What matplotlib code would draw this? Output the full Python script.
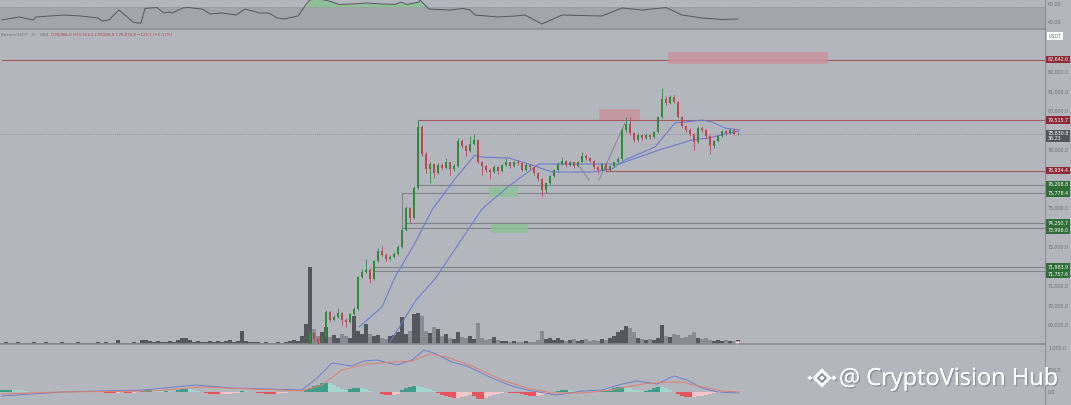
import numpy as np
import matplotlib
matplotlib.use("Agg")
import matplotlib.pyplot as plt
from matplotlib.patches import Rectangle, Polygon
import matplotlib.patheffects as pe

# ---- BTC/USDT 1h, values ----
first_bar = 77          # bar index of the first candle inside the price window
first_open = 67950

closes = [
    68600, 68300, 68150, 68400, 69650, 69250, 69400, 69600, 69250, 69150,
    69550, 69800, 71450, 71700, 71850, 71350, 72300, 72800, 72600, 72400,
    72500, 72650, 73000, 73900, 75000, 74500, 76050, 79150, 77800, 77000,
    77250, 76800, 77200, 77050, 77350, 77000, 77150, 78450, 78200, 77950,
    78300, 78500, 77400, 77150, 76950, 76850, 77100, 76900, 77200, 77350,
    77150, 77400, 77300, 76950, 77200, 77100, 76800, 76500, 75950, 76300,
    76650, 76950, 77250, 77450, 77200, 77350, 77150, 77400, 77700, 77600,
    77450, 77100, 76950, 77250, 76950, 77150, 77350, 77550, 79000, 79350,
    78850, 78500, 78750, 78600, 78750, 78650, 78900, 79700, 80600, 80400,
    80700, 80450, 79700, 79200, 79000, 78800, 78400, 79100, 79000, 78700,
    78200, 78450, 78700, 78950, 78850, 79000, 78800, 78830,
]
highs = [
    68700, 68650, 68400, 68500, 69750, 69700, 69500, 69850, 69650, 69350,
    69600, 69900, 71500, 71900, 72400, 71950, 72350, 72950, 73050, 72700,
    72600, 72750, 73100, 74000, 75100, 75050, 76150, 79500, 79300, 77900,
    77400, 77300, 77300, 77300, 77600, 77400, 77250, 78600, 78550, 78250,
    78700, 78800, 78550, 77450, 77200, 77050, 77200, 77150, 77250, 77600,
    77400, 77450, 77500, 77350, 77300, 77250, 77150, 76850, 76550, 76350,
    76700, 77000, 77350, 77650, 77500, 77450, 77400, 77450, 77900, 77800,
    77650, 77500, 77150, 77300, 77300, 77200, 77400, 77650, 79100, 79700,
    79700, 78900, 78850, 78800, 78850, 78800, 78950, 79750, 81180, 80750,
    80800, 80800, 80500, 79750, 79300, 79100, 78850, 79200, 79200, 79050,
    78750, 78500, 78750, 79000, 79000, 79050, 79050, 78900,
]
lows = [
    67900, 68200, 68000, 68100, 68350, 69150, 69200, 69350, 69000, 68900,
    69100, 69500, 69750, 71400, 71650, 71150, 71300, 72250, 72550, 72300,
    72350, 72450, 72600, 72950, 73850, 74250, 74450, 76000, 77700, 76800,
    76300, 76550, 76750, 76950, 77000, 76700, 76900, 77100, 78100, 77700,
    77900, 78250, 77300, 76700, 76850, 76500, 76800, 76750, 76850, 77150,
    77050, 77100, 77200, 76900, 76900, 77000, 76700, 76400, 75650, 75800,
    76250, 76600, 76900, 77200, 77100, 77150, 77050, 77100, 77350, 77500,
    77350, 77000, 76800, 76900, 76850, 76900, 77100, 77300, 77500, 78900,
    78750, 78400, 78450, 78500, 78550, 78550, 78600, 78850, 79650, 80300,
    80350, 80400, 79650, 79100, 78900, 78700, 78000, 78350, 78900, 78600,
    77800, 78100, 78400, 78650, 78750, 78800, 78750, 78750,
]

# volume for every bar from the left edge (bar 0) to the last candle
volume = [
    1, 2, 1, 1, 2, 1, 1, 1, 2, 1, 1, 2, 1, 1, 1, 2, 1, 1, 1, 2, 1, 1, 1, 1, 2, 1, 2, 1, 1,
    4, 1, 1, 1, 2, 1, 4, 4, 3, 2, 3, 2, 2, 3, 2, 4, 6, 6, 4,
    2, 3, 2, 2, 3, 2, 3, 2, 3, 4, 2, 3, 13, 3, 2, 2, 2,
    1, 2, 1, 1, 2, 1, 2, 3, 4, 3, 8, 20, 77, 15, 8, 12, 17,
    7, 9, 6, 10, 8, 6, 28, 13, 10, 20, 10, 8, 9, 6, 5, 8, 9, 12, 27,
    10, 13, 30, 31, 28, 13, 11, 17, 15, 8, 10, 6, 5, 12, 7, 6, 8, 5, 21,
    6, 4, 5, 7, 4, 3, 3, 2, 3, 2, 2, 3, 2, 2, 4, 13, 5, 6, 4, 6, 4,
    3, 4, 5, 3, 4, 5, 3, 4, 3, 5, 4, 6, 8, 12, 14, 18, 16, 12, 6, 5, 4,
    5, 4, 6, 19, 8, 7, 10, 9, 6, 7, 9, 12, 6, 5, 6, 4, 3, 4, 3, 4, 3, 3, 4,
]

# moving averages (vertices: bar index, price)
ma_fast_x = [89.25, 95, 98.25, 103.25, 107.5, 113, 118.25, 120, 126.75, 132.5, 137.5,
             147.5, 152.5, 155.75, 163.25, 168.25, 170.75, 175, 177.5, 180.75, 184.25]
ma_fast_y = [68894, 69922, 71463, 73210, 74907, 76449, 77734, 77630, 77580, 77220, 76860,
             76860, 77015, 77477, 78145, 79379, 79430, 79533, 79430, 79122, 79019]
ma_slow_x = [97, 103.5, 108.25, 120, 126.75, 134.25, 154.25, 164.25, 172.5, 176.75, 180.75, 184.25]
ma_slow_y = [68122, 70281, 71360, 74958, 76141, 77272, 77272, 77991, 78505, 78608, 78813, 78968]

# RSI pane
rsi_x = [0, 4.25, 7.75, 8.5, 15.5, 19.75, 24, 25, 26.75, 29.25, 31, 32.75, 34, 34.75, 35.75,
         38.75, 40.5, 41.75, 42.5, 45.25, 46.5, 50, 52, 55, 58.5, 60.75, 64.5, 66.75, 68.75,
         70.5, 74, 76.25, 77, 79, 82, 84.25, 87.75, 91.25, 94.75, 98.25, 99.75, 101.25,
         104.25, 104.5, 106.75, 112, 115.25, 117, 118.25, 124, 128.25, 130.75, 135, 140,
         150, 155, 160, 166, 170, 175, 180, 184]
rsi_y = [41.9, 45.3, 41.9, 45.3, 47.5, 46.4, 44.2, 40.8, 41.9, 53.2, 46.4, 39.6, 38.5, 38.5, 55.0,
         56.0, 49.8, 50.9, 49.8, 55.5, 56.0, 54.3, 48.7, 49.8, 47.5, 54.3, 49.8, 49.8, 44.2,
         43.0, 46.4, 61.1, 64.5, 66.0, 63.0, 59.5, 60.0, 61.1, 60.0, 59.5, 62.2, 59.5,
         62.2, 64.5, 54.3, 53.2, 55.0, 53.2, 47.5, 45.3, 46.4, 47.5, 37.4, 47.5,
         46.4, 55.5, 53.2, 56.0, 47.5, 44.2, 42.5, 43.0]
rsi_band = (32.5, 56.6)
rsi_ticks = [60, 40]

# MACD pane
macd_x = [0, 7.5, 15, 35, 48.5, 57.5, 67.5, 75, 78.75, 82.5, 87.5, 90.5, 93.75, 98.75, 102.5,
          105.5, 108, 112.5, 116.25, 122.5, 127.5, 132.5, 138.75, 145, 150, 155, 158.75,
          163.75, 168, 171.25, 175, 178.75, 184.25]
macd_y = [-91, -45, 0, 45, 159, 91, 68, 45, 318, 659, 591, 705, 727, 614, 727,
          955, 886, 682, 591, 318, 136, 23, -68, 23, 45, 182, 250,
          182, 364, 273, 91, 0, -23]
signal_x = [0, 15, 37.5, 50, 62.5, 75, 80, 85, 91.25, 97.5, 102.5, 107, 111.25, 117.5, 125,
            131.25, 137.5, 145, 152.5, 160, 166.25, 170, 175, 180, 184.25]
signal_y = [-45, 0, 23, 114, 68, 23, 159, 500, 636, 682, 705, 864, 795, 591, 273,
            91, -23, -23, 45, 182, 227, 227, 114, 23, 0]
macd_hist = [
    40, 50, 50, 45, 40, 35, 20,
    10, 5, 0, -5, -5, 0, 5, 5, 0, -5, -5, -5, 0, 0, 5, 5, 0, 0,
    -10, -15, -20, -20, -15, -10, -15, -20, -15, -10,
    30, 45, 50, 40, 30, 20, 20, 15, 10, 50, 65, 70, 60, 40, 25, 10,
    -20, -35, -45, -50, -45, -40, -35, -30, -20, 20, 15, 10,
    -10, -20, -30, -40, -45, -45, -35, -25, -15, -10, -5, -5, 0,
    40, 90, 130, 170, 200, 215, 205, 160, 110, 70, 40,
    60, 90, 95, 80, 60, 30, 10, -10, -40, -65, -75, -60, -35,
    40, 80, 110, 140, 135, 120, 90, 60, 30,
    -30, -60, -90, -120, -140, -135, -110, -80, -60,
    -100, -150, -160, -130, -90, -60, -40, -25, -10, -15, -20, -30,
    -50, -70, -85, -95, -90, -70, -45, -25, -10,
    20, 40, 45, 35, 20, 10, 5, -5, -10, -5, 5, 15, 30, 50,
    80, 110, 120, 105, 80, 50, 35, 25, 30, 50, 90, 115, 110, 80, 40, 10,
    -40, -80, -110, -120, -115, -100, -80, -60, -45, -30, -20, -15, -10, -10, -5, -5,
]

# horizontal levels drawn on the chart
level_price = [82642.0, 79515.7, 76934.4, 76208.8, 75778.4, 74250.7, 73998.0, 71983.9, 71757.6]
level_from = [0, 104, 151, 104, 100, 101, 100, 93, 93]
level_kind = ["res", "res", "res", "sup", "sup", "sup", "sup", "sup", "sup"]
bracket_x = [104, 100, 93]
bracket_lo = [76208.8, 73998.0, 71757.6]
bracket_hi = [79515.7, 75778.4, 71983.9]

# shaded zones
box_x0 = [166.5, 149.25, 121.75, 122.25]
box_x1 = [206.25, 159.25, 128.75, 131.25]
box_lo = [82462, 79585, 75627, 73777]
box_hi = [83028, 80099, 76090, 74188]
box_kind = ["res", "res", "sup", "sup"]

# hand-drawn trend lines
trend_x = [[144.5, 146.75], [149.25, 155.75]]
trend_y = [[77117, 76449], [76449, 79379]]

last_price = 78830.8
countdown = "36:23"
legend_name = "Bitcoin/USDT \u00b7 1h \u00b7 OKX"
legend_vals = "O78,886.0 H79,313.2 L78,805.8 C78,870.8 \u2212125.1 (\u22120.17%)"

# ---- styling ----
BG = "#b4b6be"
SEP = "#8c8e95"
TXT = "#6e7077"
GREEN = "#2f8a3e"
RED = "#b84a52"
RES_LINE = "#a45a60"
SUP_LINE = "#80838b"
LBL = {"res": "#8e2a36", "sup": "#2f6f37"}
BOX = {"res": "#c8939b", "sup": "#8ec394"}
MA_C = "#6c7ccf"
TICK_FS = 3.4

W, H = 1071, 405
fig = plt.figure(figsize=(W / 100, H / 100), dpi=100)
fig.patch.set_facecolor(BG)


def frac(x0, y0, x1, y1):
    return [x0 / W, 1 - y1 / H, (x1 - x0) / W, (y1 - y0) / H]


ax_rsi = fig.add_axes(frac(0, 0, 1045, 29))
ax = fig.add_axes(frac(0, 29, 1045, 344))
ax_macd = fig.add_axes(frac(0, 344, 1045, 405))
XLIM = (-0.5, 1045 / 4 - 0.5)

# volume overlay (created first so the price axis keeps its labels on the right)
axv = ax.twinx()


def style(a):
    a.set_facecolor(BG)
    a.set_xlim(*XLIM)
    a.set_xticks([])
    a.yaxis.tick_right()
    a.tick_params(axis="y", left=False, labelleft=False, right=False, labelright=True,
                  length=0, pad=2.2, labelsize=TICK_FS, labelcolor=TXT)
    for s in ("top", "left"):
        a.spines[s].set_visible(False)
    a.spines["right"].set_color(SEP)
    a.spines["right"].set_linewidth(0.8)
    a.spines["bottom"].set_color(SEP)
    a.spines["bottom"].set_linewidth(1.2)


for a in (ax_rsi, ax, ax_macd):
    style(a)
ax_macd.spines["bottom"].set_visible(False)

# ---- RSI ----
ax_rsi.set_ylim(31.7, 64.5)
ax_rsi.axhspan(*rsi_band, color="#a3a5ad", lw=0, zorder=0)
for lvl in rsi_band:
    ax_rsi.axhline(lvl, color="#8f9199", lw=0.5, ls=(0, (1, 1.5)))
rx = np.array(rsi_x)
ry = np.array(rsi_y)
ax_rsi.fill_between(rx, ry, rsi_band[1], where=ry > rsi_band[1], interpolate=True,
                    color="#86c290", alpha=0.8, lw=0)
ax_rsi.plot(rx, ry, color="#55575d", lw=0.7)
ax_rsi.set_yticks(rsi_ticks)
ax_rsi.set_yticklabels([f"{v:.2f}" for v in rsi_ticks])

# ---- price ----
ax.set_ylim(68022, 84210)
cl = np.array(closes, dtype=float)
op = np.r_[first_open, cl[:-1]]
hi = np.array(highs, dtype=float)
lo = np.array(lows, dtype=float)
bx = np.arange(first_bar, first_bar + len(cl))
up = cl >= op
col = np.where(up, GREEN, RED)

axv.set_ylim(0, max(volume) * 4.08)
axv.set_xlim(*XLIM)
axv.axis("off")
vx = np.arange(len(volume))
vcol = ["#55575d"] * len(volume)
for k, u in zip(bx, up):
    if not u:
        vcol[k] = "#8a8c93"
axv.bar(vx, volume, width=0.8, color=vcol, lw=0)
axv.plot([183.75], [0.9], marker="s", ms=3.2, mfc="white", mec="#d88a90", mew=0.5)

axv.set_zorder(0)
ax.set_zorder(1)
ax.patch.set_visible(False)
axv.patch.set_facecolor(BG)

# levels and zones
x_right = XLIM[1]
for p, x0, k in zip(level_price, level_from, level_kind):
    ax.plot([x0, x_right], [p, p], color=RES_LINE if k == "res" else SUP_LINE,
            lw=0.8, zorder=2)
for x0, l, h in zip(bracket_x, bracket_lo, bracket_hi):
    ax.plot([x0, x0], [l, h], color=SUP_LINE, lw=0.8, zorder=2)
for x0, x1, l, h, k in zip(box_x0, box_x1, box_lo, box_hi, box_kind):
    ax.add_patch(Rectangle((x0, l), x1 - x0, h - l, facecolor=BOX[k], edgecolor=BOX[k],
                           lw=0.5, alpha=0.85, zorder=2))
for tx, ty in zip(trend_x, trend_y):
    ax.plot(tx, ty, color="#85878f", lw=0.7, zorder=2)
ax.axhline(last_price, color="#7d7f87", lw=0.5, ls=(0, (1, 2)), zorder=2)

# moving averages
ax.plot(ma_fast_x, ma_fast_y, color=MA_C, lw=0.8, zorder=3)
ax.plot(ma_slow_x, ma_slow_y, color=MA_C, lw=0.8, zorder=3)

# candles
ax.vlines(bx, lo, hi, colors=col, lw=0.6, zorder=4)
ax.bar(bx, np.maximum(np.abs(cl - op), 25), bottom=np.minimum(op, cl), width=0.62,
       color=col, lw=0, zorder=5)

# price labels on the axis, pushed apart when they would overlap
ytr = ax.get_yaxis_transform()
labels = [(p, f"{p:,.1f}", LBL[k]) for p, k in zip(level_price, level_kind)]
labels.append((last_price, f"{last_price:,.1f}\n{countdown}", "#54565c"))
labels.sort(key=lambda t: -t[0])
gap = 360
prev = None
label_y = []
for p, s, c in labels:
    y = p if prev is None or prev - p >= gap else prev - gap
    if "\n" in s:
        y = y - 120
    label_y.append(y)
    ax.text(1.0025, y, s, transform=ytr, fontsize=TICK_FS, color="white", va="center",
            ha="left", linespacing=1.0, clip_on=False, zorder=6,
            bbox=dict(boxstyle="square,pad=0.3", fc=c, ec="none"))
    prev = y - (240 if "\n" in s else 0)

# axis ticks, hiding the ones a level label sits on
ticks = np.arange(69000, 82001, 1000)
ax.set_yticks(ticks)
ax.set_yticklabels(["" if min(abs(t - y) for y in label_y) < 400 else f"{t:,.1f}"
                    for t in ticks])

ax.text(1.0035, 1 - 7 / 315, "USDT", transform=ax.transAxes, fontsize=3.4, color=TXT,
        va="center", ha="left", clip_on=False, zorder=6,
        bbox=dict(boxstyle="square,pad=0.4", fc="white", ec="none"))
ax.text(0.001, 1 - 6 / 315, legend_name, transform=ax.transAxes, fontsize=2.9,
        color=TXT, va="center", ha="left", zorder=6)
ax.text(0.049, 1 - 6 / 315, legend_vals, transform=ax.transAxes, fontsize=2.9,
        color="#b0474f", va="center", ha="left", zorder=6)

# ---- MACD ----
ax_macd.set_ylim(-295, 1091)
hist = np.array(macd_hist, dtype=float)
prev_h = np.r_[hist[0], hist[:-1]]
hcol = []
for h, ph in zip(hist, prev_h):
    if h >= 0:
        hcol.append("#3e9c8b" if h >= ph else "#a5d6ce")
    else:
        hcol.append("#e8545b" if h <= ph else "#f2c6ca")
ax_macd.bar(np.arange(len(hist)), hist, width=0.9, color=hcol, lw=0)
ax_macd.plot(macd_x, macd_y, color="#6f7fd2", lw=0.7)
ax_macd.plot(signal_x, signal_y, color="#e0806e", lw=0.7)
mt = [1000, 500, 0]
ax_macd.set_yticks(mt)
ax_macd.set_yticklabels([f"{v:,.1f}" for v in mt])

# ---- watermark ----
ov = fig.add_axes([0, 0, 1, 1])
ov.set_xlim(0, W)
ov.set_ylim(H, 0)
ov.axis("off")
ov.patch.set_visible(False)
shadow = [pe.withSimplePatchShadow(offset=(0.8, -0.8), shadow_rgbFace="#7c7e86", alpha=0.7)]


def diamond(cx, cy, r, **kw):
    return Polygon([(cx - r, cy), (cx, cy - r), (cx + r, cy), (cx, cy + r)], closed=True, **kw)


ov.add_patch(diamond(822, 378, 7.5, fill=False, ec="white", lw=2.2, path_effects=shadow))
ov.add_patch(diamond(822, 378, 2.6, fc="white", ec="none", path_effects=shadow))
ov.add_patch(diamond(810, 378, 2.6, fc="white", ec="none", path_effects=shadow))
ov.add_patch(diamond(834, 378, 2.6, fc="white", ec="none", path_effects=shadow))
ov.text(839, 379, "@ CryptoVision Hub", fontsize=17, family="Open Sans", color="white",
        va="center", ha="left",
        path_effects=[pe.withSimplePatchShadow(offset=(1, -1), shadow_rgbFace="#7c7e86",
                                               alpha=0.7), pe.Normal()])

fig.savefig("out.png", dpi=100, facecolor=BG)
